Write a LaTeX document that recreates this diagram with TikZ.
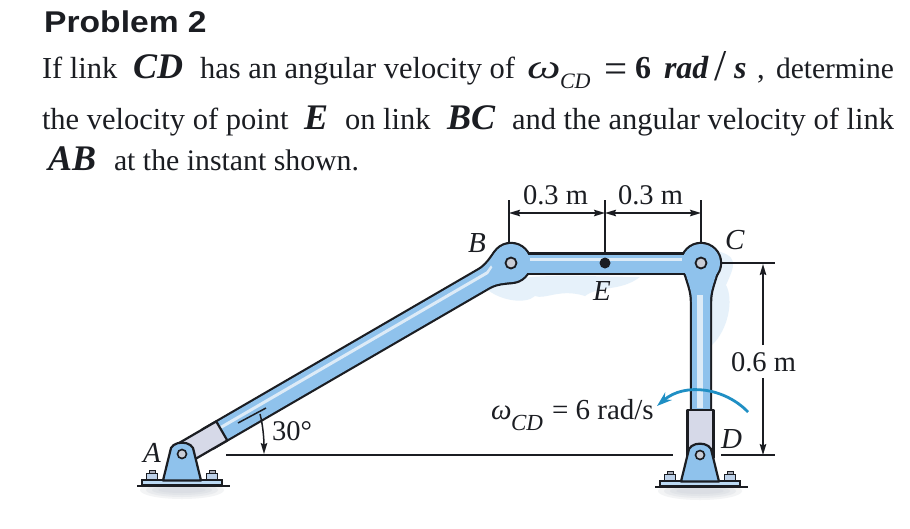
\documentclass[tikz,border=0pt]{standalone}
\usepackage{fontspec}
\setmainfont{Liberation Serif}
\newfontfamily\titlefont{Liberation Sans}
\usetikzlibrary{arrows.meta}
\definecolor{linkblue}{HTML}{8FC2EC}
\definecolor{lightstripe}{HTML}{DDEBF7}
\definecolor{sleeve}{HTML}{D6D9E8}
\definecolor{ink}{HTML}{1B1D22}
\definecolor{omegablue}{HTML}{1F8FC4}
\definecolor{haze}{HTML}{E6F1FA}
\definecolor{shadowgray}{HTML}{C9CDD6}
\tikzset{
  body/.style={anchor=base west,inner sep=0pt,outer sep=0pt,text=ink,font=\fontsize{30.5}{30}\selectfont},
  keyword/.style={anchor=base west,inner sep=0pt,outer sep=0pt,text=ink,font=\fontsize{36}{36}\selectfont\bfseries\itshape},
  dimtext/.style={anchor=base west,inner sep=0pt,outer sep=0pt,text=ink,font=\fontsize{28.5}{28.5}\selectfont},
  pointlabel/.style={anchor=base west,inner sep=0pt,outer sep=0pt,text=ink,font=\fontsize{29}{29}\selectfont\itshape},
  thin line/.style={draw=ink,line width=1.5pt},
  dimtip/.tip={Stealth[length=11pt,width=6.5pt,inset=1.5pt]},
  dim arrow/.style={thin line,dimtip-dimtip},
  outlined/.style={draw=ink,line width=2.2pt,line join=round},
}
% support: shadow, plate, bolts, bracket
\newcommand{\mysupport}[2]{%
  \begin{scope}[shift={(#1,#2)}]
    \foreach \w/\h in {42/9,36/7,30/5,24/3}{
      \fill[shadowgray,opacity=.22] (0,36) ellipse[x radius=\w,y radius=\h];
    }
    \foreach \s in {-30,30}{
      \draw[ink,line width=.8pt,fill=sleeve!65!linkblue] (\s-5.5,19.5) rectangle (\s+5.5,26);
      \draw[ink,line width=.8pt,fill=sleeve!80!black] (\s-3,16) rectangle (\s+3,19.5);
    }
    \draw[ink,line width=1.2pt,fill=linkblue!60!white] (-40,26) rectangle (40,31);
    \draw[ink,line width=2pt] (-45,31.5) -- (48,31.5);
    \draw[outlined,fill=linkblue] (-19,26.5) -- (-12,-2) .. controls (-12,-14.5) and (12,-14.5) .. (12,-2) -- (19,26.5) -- cycle;
    \draw[ink,line width=1.6pt,fill=shadowgray] (0,0) circle[radius=4.5];
  \end{scope}
}
% all the linked shapes, painted with the style #1
\newcommand{\linkage}[1]{%
  \begin{scope}[shift={(182,454)},rotate=30.14]
    \path[#1] (30,-10) -- (349,-10) .. controls (358,-10) and (365,-14) .. (372,-17) -- (372,17) .. controls (365,14) and (358,10) .. (349,10) -- (30,10) -- cycle;
  \end{scope}
  \path[#1] (510,254.5) rectangle (701,272.5);
  \path[#1] (685,271) .. controls (688,283) and (692,290) .. (692,302) -- (692,420) -- (710,420) -- (710,302) .. controls (710,290) and (714,283) .. (717,271) -- cycle;
  \path[#1] (511,263) circle[radius=19];
  \path[#1] (701,263) circle[radius=19];
}
\begin{document}
\begin{tikzpicture}[x=1pt,y=-1pt]
\useasboundingbox (0,0) rectangle (910,528);
\fill[white] (0,0) rectangle (910,528);

% haze behind the links
\fill[haze] (488,290) .. controls (510,272) and (560,276) .. (640,277) .. controls (620,292) and (600,285) .. (585,296) .. controls (560,288) and (545,300) .. (535,296) .. controls (525,305) and (500,300) .. (488,290) -- cycle;
\fill[haze] (712,250) .. controls (740,255) and (735,265) .. (726,285) .. controls (734,300) and (728,330) .. (712,345) -- cycle;

% ground lines
\coordinate (gl1) at (226,455); \coordinate (gr1) at (673,455);
\coordinate (gl2) at (721,455); \coordinate (gr2) at (775,455);
\draw[thin line] (gl1) -- (gr1);
\draw[thin line] (gl2) -- (gr2);

% link AB, BC, CD
\linkage{draw=ink,line width=4.4pt,line join=round}
\linkage{fill=linkblue}

% highlights
\begin{scope}[shift={(182,454)},rotate=30.14]
  \fill[lightstripe] (40,-5) -- (355,-5) -- (362,-8) -- (362,-5.5) -- (355,-2) -- (40,-2) -- cycle;
\end{scope}
\fill[lightstripe] (530,258) rectangle (682,261);
\fill[lightstripe] (697,295) rectangle (703,408);

% sleeves
\begin{scope}[shift={(182,454)},rotate=30.14]
  \draw[outlined,fill=sleeve] (0,-11) -- (46,-11) -- (46,11) -- (0,11) -- cycle;
\end{scope}
\draw[outlined,fill=sleeve] (687.5,410) rectangle (713.5,458);

% supports
\mysupport{182}{454}
\mysupport{700}{455}

% pins
\foreach \px/\nm in {511/pB,701/pC}{
  \coordinate (\nm) at (\px,263);
  \draw[ink,line width=1.8pt,fill=shadowgray] (\nm) circle[radius=5.5];
}
\coordinate (pE) at (605,263);
\fill[ink] (pE) circle[radius=5.5];

% dimension lines
\coordinate (d1) at (509,213); \coordinate (d2) at (605,213); \coordinate (d3) at (701,213);
\draw[thin line] (509,200) -- (509,243);
\draw[thin line] (605,200) -- (605,252);
\draw[thin line] (701,200) -- (701,243);
\draw[dim arrow] (d1) -- (d2);
\draw[dim arrow] (d2) -- (d3);
\draw[thin line] (722,263) -- (775,263);
\coordinate (v1) at (763,264); \coordinate (v2) at (763,345);
\coordinate (v3) at (763,378); \coordinate (v4) at (763,455);
\draw[thin line,-dimtip] (v2) -- (v1);
\draw[thin line,-dimtip] (v3) -- (v4);

% angle dimension
\draw[thin line] (238,423) -- (266,408);
\draw[thin line,-dimtip] (260,414) .. controls (263,425) and (264,440) .. (264,454);

% omega arrow
\coordinate (wa) at (748,412); \coordinate (wb) at (657,406);
\draw[omegablue,line width=2.8pt,-{Stealth[length=15pt,width=10pt]}] (wa) .. controls (725,388) and (685,382) .. (wb);

% labels
\node[pointlabel] (lA) at (143,462) {A};
\node[pointlabel] (lB) at (468,252) {B};
\node[pointlabel] (lC) at (725,249) {C};
\node[pointlabel] (lE) at (593,300) {E};
\node[pointlabel] (lD) at (721,448) {D};
\node[dimtext] (t1) at (523,204) {0.3 m};
\node[dimtext] (t2) at (618,204) {0.3 m};
\node[dimtext] (t3) at (731,371) {0.6 m};
\node[dimtext] (t4) at (272,440) {30°};
\node[pointlabel] (w1) at (491,419) {ω};
\node[pointlabel,font=\fontsize{23}{23}\selectfont\itshape] (w2) at (511,430) {CD};
\node[dimtext,font=\fontsize{29}{29}\selectfont] (w3) at (552,419) {= 6 rad/s};

% text block
\node[anchor=base west,inner sep=0pt,text=ink,xscale=1.12,font=\fontsize{30}{30}\titlefont\bfseries] (title) at (44,32) {Problem 2};
\node[body] (a1) at (42,78) {If link};
\node[keyword] (a2) at (133,78) {CD};
\node[body] (a3) at (200,78) {has an angular velocity of};
\node[keyword,xscale=1.4,font=\fontsize{34}{34}\selectfont\itshape] (a4) at (527,78) {ω};
\node[keyword,font=\fontsize{22}{22}\selectfont\itshape] (a5) at (560,88) {CD};
\node[body,font=\fontsize{41}{41}\selectfont] (a6) at (604,82) {=};
\node[keyword,font=\fontsize{32}{32}\selectfont\bfseries] (a7) at (635,78) {6};
\node[keyword,font=\fontsize{32}{32}\selectfont\bfseries\itshape] (a8) at (664,78) {rad};
\node[body,font=\fontsize{44}{44}\selectfont] (a9) at (714,80) {/};
\node[keyword,font=\fontsize{32}{32}\selectfont\bfseries\itshape] (a10) at (734,78) {s};
\node[body] (a11) at (757,78) {,};
\node[body,font=\fontsize{29.5}{30}\selectfont] (a12) at (776,78) {determine};
\node[body] (b1) at (42,129) {the velocity of point};
\node[keyword] (b2) at (304,129) {E};
\node[body] (b3) at (345,129) {on link};
\node[keyword] (b4) at (447,129) {BC};
\node[body] (b5) at (512,129) {and the angular velocity of link};
\node[keyword] (c1) at (48,170) {AB};
\node[body,font=\fontsize{29.8}{30}\selectfont] (c2) at (114,170) {at the instant shown.};
\end{tikzpicture}
\end{document}
